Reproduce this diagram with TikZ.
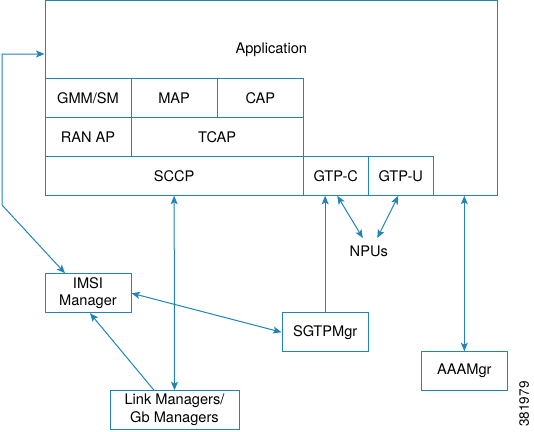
\documentclass[tikz,border=0pt]{standalone}
\usepackage{fontspec}
\setmainfont{TeX Gyre Heros}
\usepackage{tikz}
\usetikzlibrary{arrows.meta}
\definecolor{ciscoblue}{RGB}{32,132,184}

\begin{document}
\begin{tikzpicture}[x=1pt, y=-1pt, >={Stealth[length=8.5pt, width=7pt, inset=2pt]},
  box/.style={draw=ciscoblue, line width=1pt, inner sep=0pt, align=center, font=\fontsize{14.6}{17.5}\selectfont},
  lbl/.style={inner sep=0pt, font=\fontsize{14.6}{17.5}\selectfont},
  link/.style={draw=ciscoblue, line width=1pt}]
\useasboundingbox (0,0) rectangle (534,431);
\node[box, minimum width=452.3pt, minimum height=194.5pt] (App) at (271.15,98.05) {};
\node[lbl] (AppLbl) at (271.3,49.3) {Application};
\node[box, minimum width=86pt, minimum height=38.6pt] (GMM) at (88,98) {GMM/SM};
\node[box, minimum width=86.3pt, minimum height=38.6pt] (MAP) at (174.15,98) {MAP};
\node[box, minimum width=86pt, minimum height=38.6pt] (CAP) at (260.3,98) {CAP};
\node[box, minimum width=86pt, minimum height=39pt] (RANAP) at (88,136.8) {RAN AP};
\node[box, minimum width=172.3pt, minimum height=39pt] (TCAP) at (217.15,136.8) {TCAP};
\node[box, minimum width=258.3pt, minimum height=39pt] (SCCP) at (174.15,175.8) {SCCP};
\node[box, minimum width=65pt, minimum height=39pt] (GTPC) at (335.8,175.8) {GTP-C};
\node[box, minimum width=65pt, minimum height=39pt] (GTPU) at (400.8,175.8) {GTP-U};
\node[lbl] (NPU) at (368.8,251.7) {NPUs};
\node[box, minimum width=86pt, minimum height=39pt] (IMSI) at (88,293.2) {IMSI\\Manager};
\node[box, minimum width=86.3pt, minimum height=39pt] (SGTP) at (325.15,332.2) {SGTPMgr};
\node[box, minimum width=86.7pt, minimum height=39pt] (AAA) at (464.35,371.2) {AAAMgr};
\node[box, minimum width=129pt, minimum height=38.6pt] (LINK) at (174.5,410) {Link Managers/\\Gb Managers};
\node[lbl, rotate=90, font=\fontsize{13.5}{16}\selectfont] (FigNo) at (524.3,404) {381979};
% connectors
\draw[link, <->] ([xshift=-23pt]IMSI.north) -- (2,205) -- (2,54) -- (App.west |- 0,54);
\draw[link, <->] (SCCP.south) -- (LINK.north);
\draw[link, ->] ([xshift=-20.5pt]LINK.north) -- ([xshift=2pt]IMSI.south);
\draw[link, <->] (IMSI.east) -- (SGTP.west);
\draw[link, ->] (SGTP.north) -- (SGTP.north |- GTPC.south);
\draw[link, <->] ([xshift=1.5pt]GTPC.south) -- ([shift={(-6pt,8pt)}]NPU.north);
\draw[link, <->] ([xshift=-2.5pt]GTPU.south) -- ([shift={(8.5pt,8pt)}]NPU.north);
\draw[link, <->] (AAA.north) -- (AAA.north |- App.south);
\end{tikzpicture}
\end{document}
